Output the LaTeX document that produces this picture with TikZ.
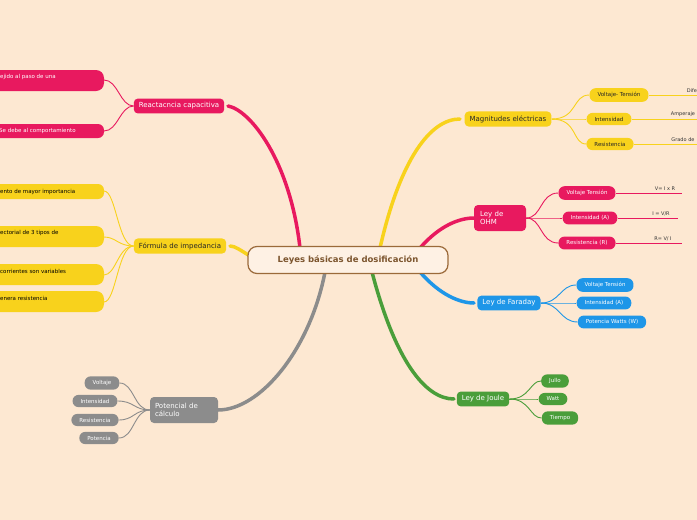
\documentclass[tikz,border=0pt]{standalone}
\usepackage{fontspec}
\setmainfont{DejaVu Sans}
\begin{document}
\begin{tikzpicture}[x=1pt,y=-1pt,
  pk/.style={fill=mpink,text=white,rounded corners=4pt,font=\fontsize{7}{8}\selectfont,inner xsep=5pt,inner ysep=4pt},
  yl/.style={fill=myel,text=black!85,rounded corners=4pt,font=\fontsize{7}{8}\selectfont,inner xsep=5pt,inner ysep=4pt},
  bl/.style={fill=mblue,text=white,rounded corners=4pt,font=\fontsize{7}{8}\selectfont,inner xsep=5pt,inner ysep=4pt},
  gn/.style={fill=mgreen,text=white,rounded corners=4pt,font=\fontsize{7}{8}\selectfont,inner xsep=5pt,inner ysep=4pt},
  gy/.style={fill=mgray,text=white,rounded corners=4pt,font=\fontsize{7}{8}\selectfont,inner xsep=5pt,inner ysep=4pt},
  sub/.style={rounded corners=6pt,font=\fontsize{5.5}{6.5}\selectfont,inner xsep=8pt,inner ysep=4pt},
  lbl/.style={font=\fontsize{5}{6}\selectfont,text=black!80,inner sep=1pt,anchor=south},
  cut/.style={font=\fontsize{5.5}{6.5}\selectfont,anchor=west,inner sep=0pt},
  br/.style={line width=3.5pt,line cap=round},
  tw/.style={line width=0.9pt}]
\definecolor{bg}{HTML}{FDE8D2}
\definecolor{mpink}{HTML}{E8195F}
\definecolor{myel}{HTML}{F8D21C}
\definecolor{mblue}{HTML}{1E96E8}
\definecolor{mgreen}{HTML}{4A9E3A}
\definecolor{mgray}{HTML}{8C8C8C}
\definecolor{brn}{HTML}{9B6A3A}
\fill[bg] (0,0) rectangle (697,520);
\useasboundingbox (0,0) rectangle (697,520);
% main branches
\draw[br,mpink] (300,248) .. controls (290,160) and (250,110) .. (228,106);
\draw[br,myel] (250,256) .. controls (240,250) and (235,246) .. (230,246);
\draw[br,mgray] (325,272) .. controls (310,350) and (260,410) .. (218,410);
\draw[br,myel] (380,248) .. controls (400,160) and (430,119) .. (460,119);
\draw[br,mpink] (420,248) .. controls (440,225) and (460,218) .. (474,218);
\draw[br,mblue] (420,272) .. controls (440,295) and (460,303) .. (474,303);
\draw[br,mgreen] (372,272) .. controls (395,360) and (425,399) .. (454,399);
\node[draw=brn,line width=1.2pt,fill=bg!60!white,rounded corners=9pt,minimum width=200pt,minimum height=27pt,text=brn!80!black,font=\bfseries\fontsize{8.5}{10}\selectfont] (c) at (348,260) {Leyes básicas de dosificación};
% Magnitudes
\node[yl] (m) at (508,119) {Magnitudes eléctricas};
\node[yl,sub] (m1) at (619,95) {Voltaje- Tensión};
\node[yl,sub] (m2) at (609,119) {Intensidad};
\node[yl,sub] (m3) at (610,144) {Resistencia};
\foreach \n in {m1,m2,m3} \draw[tw,myel] (m.east) .. controls (578,119) and (572,0|-\n.west) .. (\n.west);
\coordinate (e1) at (697,95); \coordinate (e2) at (697,119); \coordinate (e3) at (697,144);
\draw[tw,myel] (m1.east) -- (e1); \draw[tw,myel] (m2.east) -- (e2); \draw[tw,myel] (m3.east) -- (e3);
\node[lbl] at (692,94) {Dife};
\node[lbl] at (683,118) {Amperaje};
\node[lbl] at (683,143) {Grado de};
% OHM
\node[pk,align=left,minimum width=52pt,minimum height=26pt,text width=40pt] (o) at (500,218) {Ley de\\OHM};
\node[pk,sub] (o1) at (587,193) {Voltaje Tensión};
\node[pk,sub] (o2) at (590,218) {Intensidad (A)};
\node[pk,sub] (o3) at (587,243) {Resistencia (R)};
\foreach \n in {o1,o2,o3} \draw[tw,mpink] (o.east) .. controls (542,218) and (540,0|-\n.west) .. (\n.west);
\coordinate (f1) at (682,193); \coordinate (f2) at (678,218); \coordinate (f3) at (682,243);
\draw[tw,mpink] (o1.east) -- (f1); \draw[tw,mpink] (o2.east) -- (f2); \draw[tw,mpink] (o3.east) -- (f3);
\node[lbl] at (665,192) {V= I x R};
\node[lbl] at (661,217) {I = V/R};
\node[lbl] at (663,242) {R= V/ I};
% Faraday
\node[bl] (fa) at (509,303) {Ley de Faraday};
\node[bl,sub] (fa1) at (605,285) {Voltaje Tensión};
\node[bl,sub] (fa2) at (604,303) {Intensidad (A)};
\node[bl,sub] (fa3) at (612,322) {Potencia Watts (W)};
\foreach \n in {fa1,fa2,fa3} \draw[tw,mblue] (fa.east) .. controls (560,303) and (560,0|-\n.west) .. (\n.west);
% Joule
\node[gn] (j) at (483,399) {Ley de Joule};
\node[gn,sub] (j1) at (555,381) {Jullo};
\node[gn,sub] (j2) at (553,399) {Watt};
\node[gn,sub] (j3) at (560,418) {Tiempo};
\foreach \n in {j1,j2,j3} \draw[tw,mgreen] (j.east) .. controls (530,399) and (530,0|-\n.west) .. (\n.west);
% Reactancia
\node[pk] (r) at (179,106) {Reactacncia capacitiva};
\fill[mpink,rounded corners=8pt] (-20,70) rectangle (104,91);
\node[cut,text=white] (r1) at (0,77) {ejido al paso de una};
\fill[mpink,rounded corners=6pt] (-20,124) rectangle (104,138);
\node[cut,text=white] (r2) at (-1,131) {Se debe al comportamiento};
\coordinate (ra) at (104,80); \coordinate (rb) at (104,131);
\foreach \n in {ra,rb} \draw[tw,mpink] (r.west) .. controls (120,106) and (118,0|-\n) .. (\n);
% Formula
\node[yl] (fo) at (180,246) {Fórmula de impedancia};
\fill[myel,rounded corners=6pt] (-20,184) rectangle (104,199);
\node[cut] (fo1) at (0,192) {ento de mayor importancia};
\fill[myel,rounded corners=8pt] (-20,226) rectangle (104,247);
\node[cut] (fo2) at (0,233) {ectorial de 3 tipos de};
\fill[myel,rounded corners=8pt] (-20,264) rectangle (104,285);
\node[cut] (fo3) at (0,271) {corrientes son variables};
\fill[myel,rounded corners=8pt] (-20,291) rectangle (104,312);
\node[cut] (fo4) at (0,298) {enera resistencia};
\coordinate (fa') at (104,191); \coordinate (fb') at (104,237); \coordinate (fc') at (104,275); \coordinate (fd') at (104,302);
\foreach \n in {fa',fb',fc',fd'} \draw[tw,myel] (fo.west) .. controls (118,246) and (116,0|-\n) .. (\n);
% Potencial
\node[gy,align=left,text width=58pt,minimum height=26pt] (p) at (184,410) {Potencial de\\cálculo};
\node[gy,sub] (p1) at (102,383) {Voltaje};
\node[gy,sub] (p2) at (95,401) {Intensidad};
\node[gy,sub] (p3) at (95,420) {Resistencia};
\node[gy,sub] (p4) at (99,438) {Potencia};
\foreach \n in {p1,p2,p3,p4} \draw[tw,mgray] (p.west) .. controls (134,410) and (134,0|-\n.east) .. (\n.east);
\end{tikzpicture}
\end{document}
